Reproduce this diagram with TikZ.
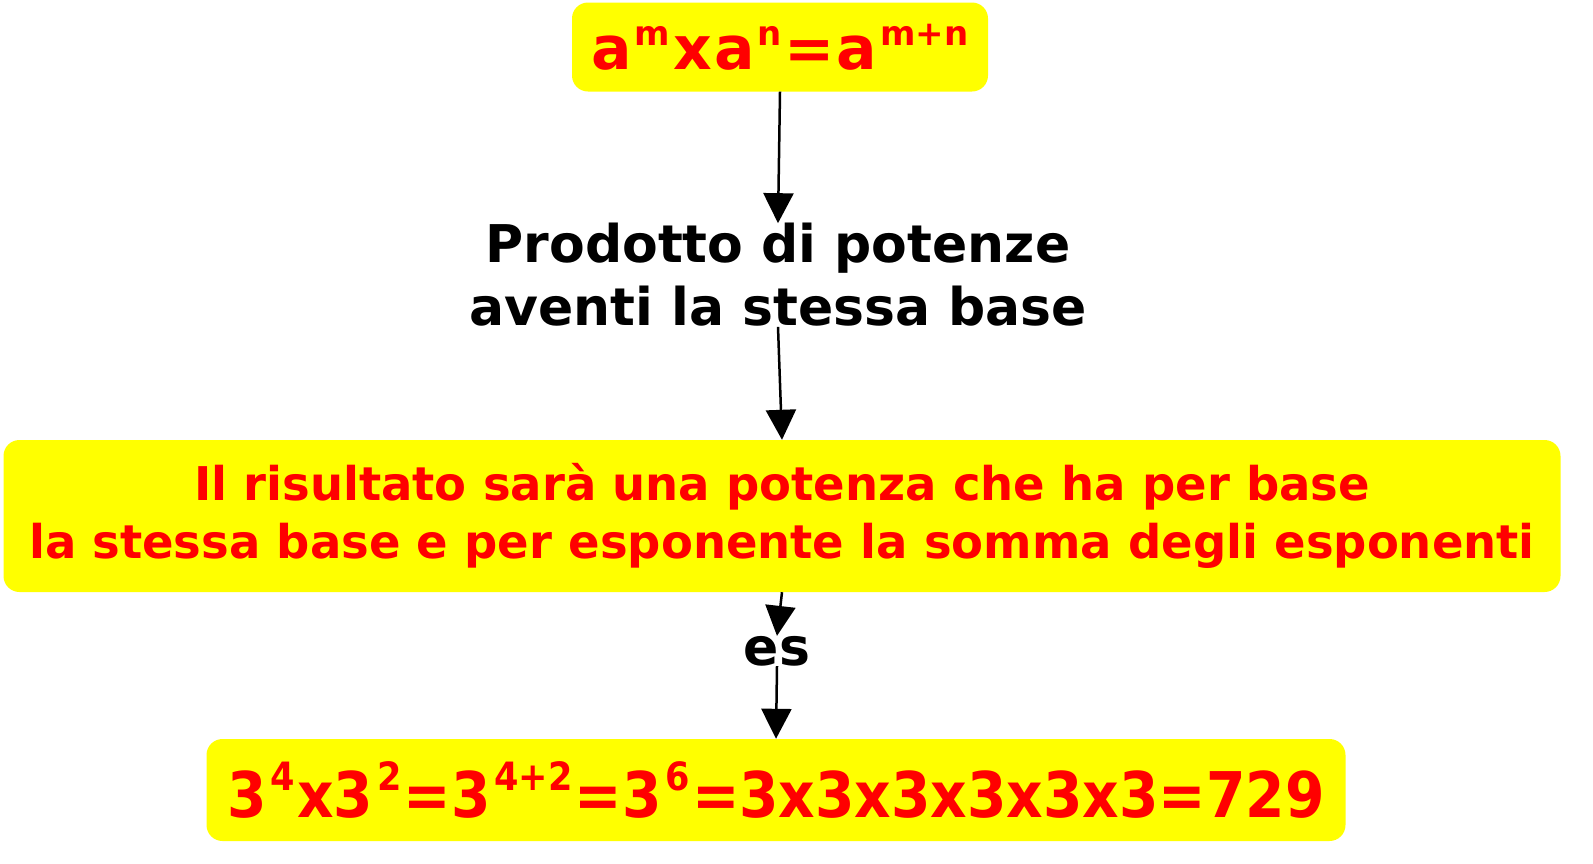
\documentclass[tikz,border=0pt]{standalone}
\usepackage{fontspec}
\setmainfont{DejaVu Sans}
\newfontfamily\condensed{DejaVu Sans Condensed}
\usetikzlibrary{arrows.meta}
\definecolor{boxyellow}{RGB}{255,255,0}
\definecolor{textred}{RGB}{255,0,0}
\newcommand{\supa}[1]{\hspace{3pt}\raisebox{24pt}{\fontsize{34}{34}\selectfont #1}\hspace{3pt}}
\newcommand{\supb}[1]{\hspace{4pt}\raisebox{27pt}{\fontsize{39}{39}\selectfont #1}\hspace{2pt}}

\begin{document}
\begin{tikzpicture}[x=1pt,y=-1pt,
  yellowbox/.style={fill=boxyellow, rounded corners=16pt, inner sep=0pt, text=textred},
  plain/.style={inner sep=0pt},
  link/.style={line width=2.5pt, -{Triangle[width=30pt,length=30pt]}}]
\useasboundingbox (0,0) rectangle (1593,863);
% boxes
\node[yellowbox, minimum width=416pt, minimum height=89pt,
  font=\bfseries\fontsize{60}{66}\selectfont] (rule) at (780,47)
  {a\supa{m}x\hspace{2pt}a\supa{n}=\hspace{2pt}a\supa{m+n}};
\node[plain, align=center, font=\bfseries\fontsize{52}{63}\selectfont] (title) at (778,275)
  {Prodotto di potenze\\aventi la stessa base};
\node[yellowbox, align=center, minimum width=1557pt, minimum height=152pt,
  font=\bfseries\fontsize{46.5}{58}\selectfont] (result) at (782,516)
  {Il risultato sarà una potenza che ha per base\\la stessa base e per esponente la somma degli esponenti};
\node[plain, font=\bfseries\fontsize{52}{60}\selectfont] (es) at (777,651) {es};
\node[yellowbox, minimum width=1139pt, minimum height=102pt,
  font=\condensed\bfseries\fontsize{63}{68}\selectfont] (example) at (776,790)
  {3\supb{4}x3\supb{2}=3\supb{4+2}=3\supb{6}=3x3x3x3x3x3=729};
% arrows
\draw[link] (rule.south) -- (title.north);
\draw[link] (title.south) -- (result.north);
\draw[link] (result.south) -- (es.north);
\draw[link] (es.south) -- (example.north);
\end{tikzpicture}
\end{document}
